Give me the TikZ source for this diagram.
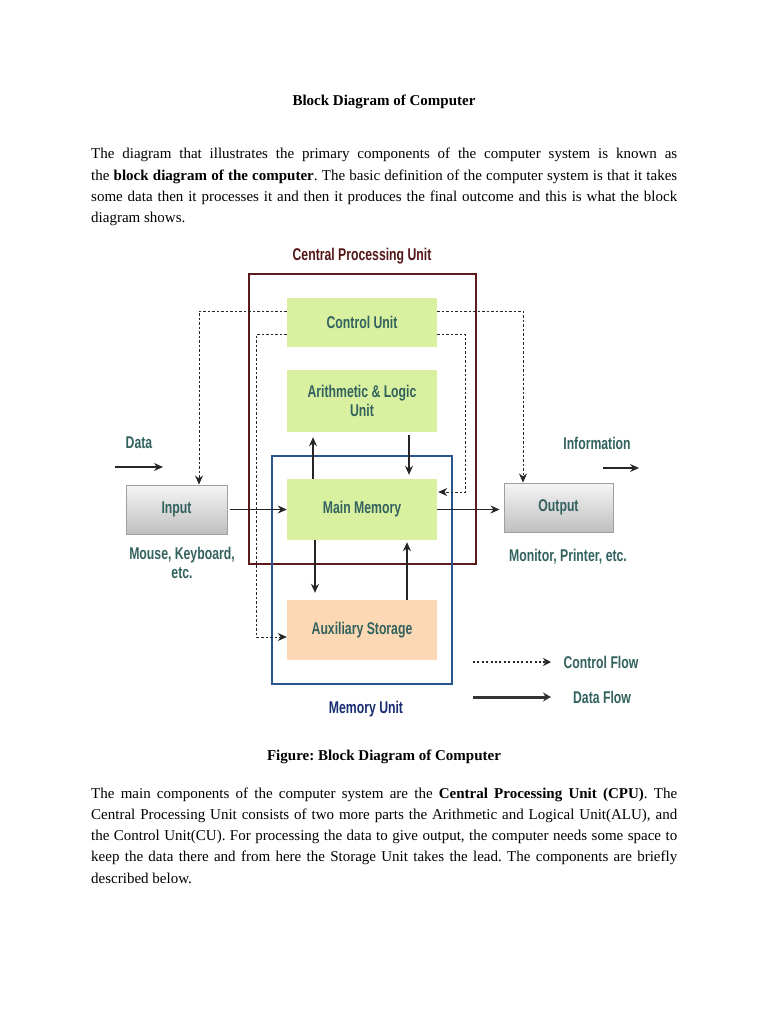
\documentclass[tikz,border=0pt]{standalone}
\usepackage{fontspec}
\setmainfont{Liberation Serif}
\newfontfamily\diagfont[FakeStretch=0.72]{Liberation Sans}
\usetikzlibrary{arrows.meta}
\frenchspacing

\definecolor{boxgreen}{RGB}{216,240,160}
\definecolor{boxpeach}{RGB}{252,216,180}
\definecolor{labelteal}{RGB}{50,98,94}
\definecolor{cpured}{RGB}{92,26,26}
\definecolor{memblue}{RGB}{40,85,145}
\definecolor{memnavy}{RGB}{22,45,112}

\newcommand{\fullline}[1]{\makebox[586pt][s]{#1}}

\tikzset{
  bodytext/.style={anchor=base west, inner sep=0pt, font=\fontsize{15}{20}\selectfont},
  headtext/.style={anchor=base, inner sep=0pt, font=\bfseries\fontsize{15}{20}\selectfont},
  unitbox/.style={fill=boxgreen, minimum width=150pt, inner sep=0pt, align=center,
    text=labelteal, font=\diagfont\bfseries\fontsize{17}{18.5}\selectfont},
  iobox/.style={draw=gray!75, line width=1pt, top color=gray!8, bottom color=gray!50,
    inner sep=0pt, text=labelteal, font=\diagfont\bfseries\fontsize{17}{18.5}\selectfont},
  difflabel/.style={inner sep=0pt, align=center, text=labelteal, font=\diagfont\bfseries\fontsize{17}{19}\selectfont},
  unittitle/.style={inner sep=0pt, font=\diagfont\bfseries\fontsize{17}{18}\selectfont},
  dataflow/.style={-{Stealth[length=9pt,width=8pt]}, line width=1.1pt, black!85},
  ctrlflow/.style={-{Stealth[length=9pt,width=8pt]}, line width=0.8pt, black!85, dash pattern=on 2.5pt off 2pt}
}

\begin{document}
\begin{tikzpicture}[x=1pt, y=-1pt]
  % page size of the reference
  \fill[white] (0,0) rectangle (768,1024);
  \useasboundingbox (0,0) rectangle (768,1024);

  \def\leftMargin{91}
  \def\lineSkip{21.3}

  % heading and first paragraph
  \node[headtext] (title) at (384,106) {Block Diagram of Computer};
  \node[bodytext] (intro0) at (\leftMargin,159) {\fullline{The diagram that illustrates the primary components of the computer system is known as}};
  \node[bodytext] (intro1) at (\leftMargin,159+1*\lineSkip) {\fullline{the \textbf{block diagram of the computer}. The basic definition of the computer system is that it takes}};
  \node[bodytext] (intro2) at (\leftMargin,159+2*\lineSkip) {\fullline{some data then it processes it and then it produces the final outcome and this is what the block}};
  \node[bodytext] (intro3) at (\leftMargin,159+3*\lineSkip) {diagram shows.};

  % outer frames (cpu and memory unit)
  \node[draw=cpured, line width=2pt, minimum width=227pt, minimum height=290pt] (cpu) at (362,419) {};
  \node[draw=memblue, line width=1.8pt, minimum width=180pt, minimum height=228pt] (memunit) at (362,570) {};
  \node[unittitle, text=cpured!90!black] (cputitle) at (362,256) {Central Processing Unit};
  \node[unittitle, text=memnavy] (memtitle) at (366,709) {Memory Unit};

  % the blocks
  \node[unitbox, minimum height=49pt] (cu) at (362,322.5) {Control Unit};
  \node[unitbox, minimum height=62pt] (alu) at (362,401) {Arithmetic \& Logic\\Unit};
  \node[unitbox, minimum height=61pt] (mm) at (362,509.5) {Main Memory};
  \node[unitbox, fill=boxpeach, minimum height=60pt] (aux) at (362,630) {Auxiliary Storage};
  \node[iobox, minimum width=101pt, minimum height=49pt] (input) at (176.5,509.5) {Input};
  \node[iobox, minimum width=109pt, minimum height=49pt] (output) at (558.5,507.5) {Output};

  % labels round the i/o blocks
  \node[difflabel] (datalabel) at (139,443) {Data};
  \node[difflabel] (infolabel) at (597,443) {Information};
  \node[difflabel] (inputdev) at (182,563) {Mouse, Keyboard,\\etc.};
  \node[difflabel] (outputdev) at (568,557) {Monitor, Printer, etc.};

  % data flow
  \coordinate (datafrom) at (115,467);
  \coordinate (datato) at (163,467);
  \coordinate (infofrom) at (603,468);
  \coordinate (infoto) at (639,468);
  \draw[dataflow] (datafrom) -- (datato);
  \draw[dataflow] (infofrom) -- (infoto);
  \draw[dataflow, shorten <=2pt] (input.east) -- (mm.west);
  \draw[dataflow, shorten >=4pt] (mm.east) -- (mm.east -| output.west);
  \draw[dataflow, shorten >=5pt] ([xshift=-49pt]mm.north) -- ([xshift=-49pt]alu.south);
  \draw[dataflow, shorten <=3pt, shorten >=4pt] ([xshift=47pt]alu.south) -- ([xshift=47pt]mm.north);
  \draw[dataflow, shorten >=7pt] ([xshift=-47pt]mm.south) -- ([xshift=-47pt]aux.north);
  \draw[dataflow, shorten >=2pt] ([xshift=45pt]aux.north) -- ([xshift=45pt]mm.south);

  % control flow from the control unit
  \draw[ctrlflow] ([yshift=11.5pt]cu.west) -| ([xshift=22.5pt]input.north);
  \draw[ctrlflow] ([yshift=11.5pt]cu.east) -| ([xshift=-35.5pt]output.north);
  \draw[ctrlflow] ([yshift=-11.5pt]cu.west) -- ++(-30,0) |- ([yshift=-7pt]aux.west);
  \draw[ctrlflow, shorten >=1pt] ([yshift=-11.5pt]cu.east) -- ++(28,0) |- ([yshift=17.5pt]mm.east);

  % legend
  \coordinate (ctrlfrom) at (473,662);
  \coordinate (ctrlto) at (551,662);
  \coordinate (datalegfrom) at (473,697);
  \coordinate (datalegto) at (551,697);
  \draw[ctrlflow, line width=1.4pt, dash pattern=on 2pt off 2.4pt, -{Stealth[length=8pt,width=8pt]}] (ctrlfrom) -- (ctrlto);
  \draw[dataflow, line width=3pt, black!80, -{Stealth[length=8pt,width=9pt]}] (datalegfrom) -- (datalegto);
  \node[difflabel] (ctrllabel) at (601,662) {Control Flow};
  \node[difflabel] (datalegend) at (602,697) {Data Flow};

  % caption and second paragraph
  \node[headtext] (caption) at (384,760) {Figure: Block Diagram of Computer};
  \node[bodytext] (parts0) at (\leftMargin,798) {\fullline{The main components of the computer system are the \textbf{Central Processing Unit (CPU)}. The}};
  \node[bodytext] (parts1) at (\leftMargin,798+1*\lineSkip) {\fullline{Central Processing Unit consists of two more parts the Arithmetic and Logical Unit(ALU), and}};
  \node[bodytext] (parts2) at (\leftMargin,798+2*\lineSkip) {\fullline{the Control Unit(CU). For processing the data to give output, the computer needs some space to}};
  \node[bodytext] (parts3) at (\leftMargin,798+3*\lineSkip) {\fullline{keep the data there and from here the Storage Unit takes the lead. The components are briefly}};
  \node[bodytext] (parts4) at (\leftMargin,798+4*\lineSkip) {described below.};
\end{tikzpicture}
\end{document}
